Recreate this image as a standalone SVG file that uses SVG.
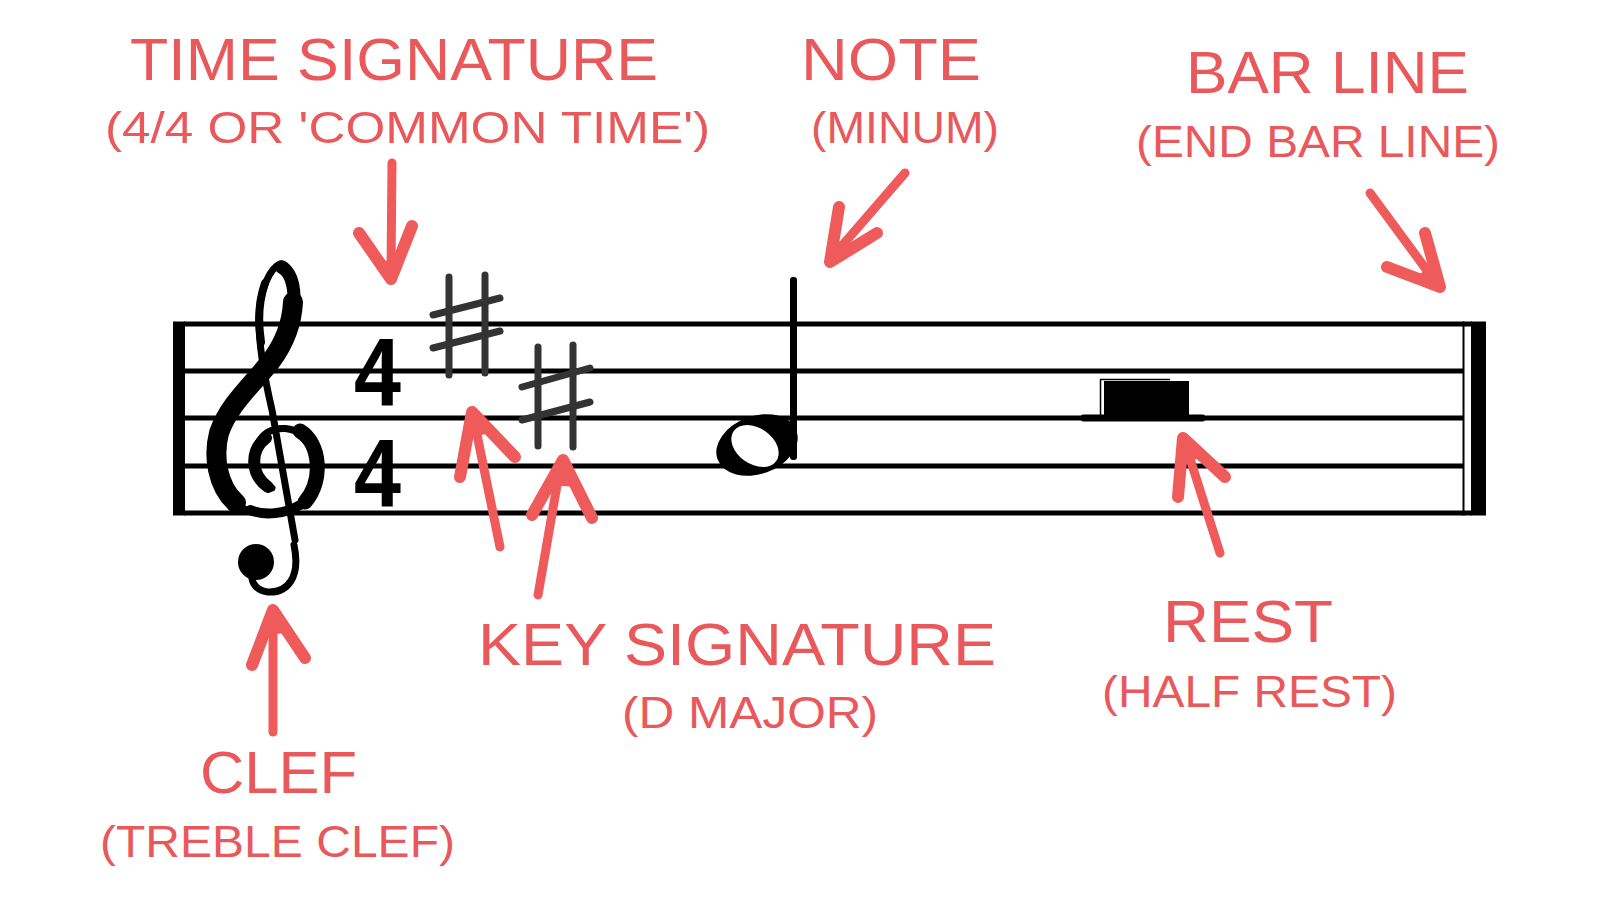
<svg xmlns="http://www.w3.org/2000/svg" width="1600" height="900" viewBox="0 0 1600 900">
<style>
.lbl{font-family:"Liberation Sans","Open Sans",Arial,sans-serif;fill:#e9585b}
.t{font-size:60px}
.s{font-size:45px}
.shaft{fill:none;stroke:#ef5b5b;stroke-width:9;stroke-linecap:round}
.head{fill:none;stroke:#ef5b5b;stroke-width:12;stroke-linecap:round;stroke-linejoin:round}
.tipfill{fill:#ef5b5b}
.sl{stroke:#000;stroke-width:5}
.sharp{stroke:#333;stroke-width:7;stroke-linecap:round}
.ck{fill:none;stroke:#000;stroke-linecap:round;stroke-linejoin:round}
</style>
<rect width="1600" height="900" fill="#fff"/>

<g id="staff">
  <rect x="173" y="321.5" width="12" height="194" fill="#000"/>
  <line class="sl" x1="184" y1="324" x2="1472" y2="324"/>
  <line class="sl" x1="184" y1="371" x2="1464" y2="371"/>
  <line class="sl" x1="184" y1="418" x2="1464" y2="418"/>
  <line class="sl" x1="184" y1="466" x2="1464" y2="466"/>
  <line class="sl" x1="184" y1="513" x2="1472" y2="513"/>
</g>

<g id="bar-line">
  <rect x="1462.5" y="321.5" width="2" height="194" fill="#000"/>
  <rect x="1471" y="321.5" width="15" height="194" fill="#000"/>
</g>

<g id="clef">
  <path class="ck" stroke-width="7" d="M272,488 C250,480 248,445 268,432 C290,420 320,440 320,465 C320,495 298,514 268,514 C235,514 213,490 214,458 C215,420 245,392 268,368 C290,345 298,320 296,295 C294,275 286,262 280,264 C270,268 260,290 259,315 C258,345 265,380 272,410 L295,540"/>
  <path class="ck" stroke-width="20" d="M236,503 C217,486 213,456 219,433 C229,404 253,384 271,361 C286,341 292,322 293,302"/>
  <path class="ck" stroke-width="13" d="M294,306 C295,284 290,271 281,267"/>
  <path class="ck" stroke-width="8" d="M265,283 C259,300 258,322 261,342"/>
  <path class="ck" stroke-width="15" d="M300,431 C320,443 324,480 305,502"/>
  <path class="ck" stroke-width="10" d="M250,510 C265,516 285,514 300,505"/>
  <path class="ck" stroke-width="12" d="M266,438 C250,450 250,474 268,487"/>
  <path class="ck" stroke-width="7" d="M294,545 C301,578 287,593 268,592 C258,591 251,584 252,575"/>
  <circle cx="256" cy="562" r="18" fill="#000"/>
</g>

<g id="time-signature">
  <text x="354" y="406" font-family="Liberation Sans, Arial, sans-serif" font-weight="bold" font-size="96" textLength="47" lengthAdjust="spacingAndGlyphs" fill="#000">4</text>
  <text x="354" y="507" font-family="Liberation Sans, Arial, sans-serif" font-weight="bold" font-size="96" textLength="47" lengthAdjust="spacingAndGlyphs" fill="#000">4</text>
</g>

<g id="key-signature">
  <line class="sharp" x1="449" y1="277" x2="449" y2="375"/>
  <line class="sharp" x1="485" y1="275" x2="485" y2="373"/>
  <line class="sharp" x1="433" y1="315" x2="500" y2="298"/>
  <line class="sharp" x1="433" y1="348" x2="500" y2="331"/>
  <line class="sharp" x1="538" y1="347" x2="538" y2="446"/>
  <line class="sharp" x1="573" y1="345" x2="573" y2="447"/>
  <line class="sharp" x1="522" y1="387" x2="590" y2="368"/>
  <line class="sharp" x1="522" y1="420" x2="590" y2="402"/>
</g>

<g id="note">
  <ellipse cx="757" cy="445" rx="42" ry="29" transform="rotate(-20 757 445)" fill="#000"/>
  <ellipse cx="755" cy="446" rx="26" ry="18" transform="rotate(35 755 446)" fill="#fff"/>
  <rect x="790" y="277" width="7" height="183" rx="3" fill="#000"/>
</g>

<g id="rest">
  <path d="M1100.5,416 V379.5 H1170" fill="none" stroke="#000" stroke-width="1.5"/>
  <rect x="1104" y="381" width="85" height="36" fill="#000"/>
  <rect x="1081" y="414.5" width="124" height="7" rx="2" fill="#000"/>
</g>

<g id="connectors">
  <g id="arrow-time">
    <path class="shaft" d="M392,163 L391,272"/>
    <path class="head" d="M359,233 L391,279 L412,226"/>
    <path class="tipfill" d="M378,262 L391,283 L402,258 Z"/>
  </g>
  <g id="arrow-note">
    <path class="shaft" d="M905,173 L834,255"/>
    <path class="head" d="M839,207 L830,262 L877,233"/>
    <path class="tipfill" d="M834,238 L827,265 L853,250 Z"/>
  </g>
  <g id="arrow-bar">
    <path class="shaft" d="M1370,193 L1434,280"/>
    <path class="head" d="M1425,233 L1440,287 L1387,267"/>
    <path class="tipfill" d="M1434,262 L1442,290 L1413,280 Z"/>
  </g>
  <g id="arrow-clef">
    <path class="shaft" d="M273,732 L273,618"/>
    <path class="head" d="M252,665 L273,610 L305,658"/>
    <path class="tipfill" d="M262,635 L273,606 L289,633 Z"/>
  </g>
  <g id="arrow-key1">
    <path class="shaft" d="M500,547 L474,420"/>
    <path class="head" d="M460,477 L472,412 L515,457"/>
    <path class="tipfill" d="M465,440 L471,408 L492,432 Z"/>
  </g>
  <g id="arrow-key2">
    <path class="shaft" d="M538,595 L560,468"/>
    <path class="head" d="M532,515 L563,460 L592,518"/>
    <path class="tipfill" d="M548,485 L563,456 L577,487 Z"/>
  </g>
  <g id="arrow-rest">
    <path class="shaft" d="M1220,553 L1186,446"/>
    <path class="head" d="M1178,497 L1183,438 L1225,477"/>
    <path class="tipfill" d="M1180,466 L1182,434 L1204,456 Z"/>
  </g>
</g>

<g id="label-time">
  <text class="lbl t" x="130" y="80" textLength="528" lengthAdjust="spacingAndGlyphs">TIME SIGNATURE</text>
  <text class="lbl s" x="105" y="143" textLength="605" lengthAdjust="spacingAndGlyphs">(4/4 OR 'COMMON TIME')</text>
</g>
<g id="label-note">
  <text class="lbl t" x="801" y="80" textLength="180" lengthAdjust="spacingAndGlyphs">NOTE</text>
  <text class="lbl s" x="811" y="143" textLength="188" lengthAdjust="spacingAndGlyphs">(MINUM)</text>
</g>
<g id="label-bar">
  <text class="lbl t" x="1186" y="93" textLength="283" lengthAdjust="spacingAndGlyphs">BAR LINE</text>
  <text class="lbl s" x="1136" y="157" textLength="364" lengthAdjust="spacingAndGlyphs">(END BAR LINE)</text>
</g>
<g id="label-key">
  <text class="lbl t" x="478" y="665" textLength="518" lengthAdjust="spacingAndGlyphs">KEY SIGNATURE</text>
  <text class="lbl s" x="622" y="728" textLength="256" lengthAdjust="spacingAndGlyphs">(D MAJOR)</text>
</g>
<g id="label-clef">
  <text class="lbl t" x="200" y="793" textLength="157" lengthAdjust="spacingAndGlyphs">CLEF</text>
  <text class="lbl s" x="100" y="857" textLength="355" lengthAdjust="spacingAndGlyphs">(TREBLE CLEF)</text>
</g>
<g id="label-rest">
  <text class="lbl t" x="1163" y="642" textLength="170" lengthAdjust="spacingAndGlyphs">REST</text>
  <text class="lbl s" x="1102" y="707" textLength="295" lengthAdjust="spacingAndGlyphs">(HALF REST)</text>
</g>
</svg>
